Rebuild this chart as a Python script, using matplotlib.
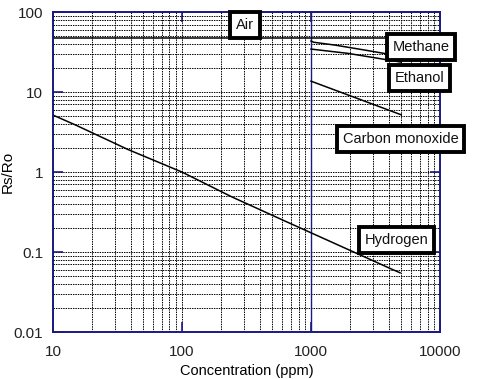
import matplotlib
matplotlib.use("Agg")
import matplotlib.pyplot as plt
from matplotlib.ticker import LogLocator, NullFormatter, FixedLocator

plt.rcParams["font.family"] = ["Liberation Sans", "DejaVu Sans"]

# values (Rs/Ro vs concentration in ppm)
air_x = [10, 10000]
air_y = [48, 48]
methane_x = [1000, 1050, 1535, 2620, 5000]
methane_y = [43.5, 42, 38.7, 33.5, 28]
ethanol_x = [1000, 1935, 5000]
ethanol_y = [34.5, 30.5, 23.7]
co_x = [1000, 5000]
co_y = [13.7, 5.2]
hydrogen_x = [10, 15, 38, 100, 243, 628, 1630, 4090, 4900]
hydrogen_y = [5.16, 3.87, 1.92, 1.0, 0.49, 0.244, 0.122, 0.0625, 0.055]

# label name, x, y (data coords of box centre)
labels = [
    ("Air", 308, 69),
    ("Methane", 7130, 36.5),
    ("Ethanol", 6900, 15.0),
    ("Carbon monoxide", 4950, 2.58),
    ("Hydrogen", 4600, 0.141),
]

navy = "#1a1a80"

fig = plt.figure(figsize=(4.95, 3.79), dpi=100)
ax = fig.add_axes([0.107, 0.124, 0.782, 0.844])

ax.set_xscale("log")
ax.set_yscale("log")
ax.set_xlim(10, 10000)
ax.set_ylim(0.01, 100)

ax.xaxis.set_major_locator(FixedLocator([10, 100, 1000, 10000]))
ax.yaxis.set_major_locator(FixedLocator([0.01, 0.1, 1, 10, 100]))
ax.xaxis.set_minor_locator(LogLocator(base=10, subs=range(2, 10)))
ax.yaxis.set_minor_locator(LogLocator(base=10, subs=range(2, 10)))
ax.xaxis.set_minor_formatter(NullFormatter())
ax.yaxis.set_minor_formatter(NullFormatter())
ax.set_xticklabels(["10", "100", "1000", "10000"])
ax.set_yticklabels(["0.01", "0.1", "1", "10", "100"])

ax.grid(True, which="both", color="black", linestyle=(0, (1.5, 1)), linewidth=0.7)
ax.tick_params(which="major", direction="in", length=7, width=1.2, color=navy,
               top=True, right=True, labelsize=11, labelcolor="#222222", pad=7)
ax.tick_params(which="minor", length=0)
ax.tick_params(axis="x", pad=9)
for s in ax.spines.values():
    s.set_color(navy)
    s.set_linewidth(1.4)

ax.axvline(1000, color=navy, lw=1.0)

for xs, ys in [(air_x, air_y), (methane_x, methane_y), (ethanol_x, ethanol_y),
               (co_x, co_y), (hydrogen_x, hydrogen_y)]:
    ax.plot(xs, ys, color="black", lw=1.1)

for name, lx, ly in labels:
    ax.text(lx, ly, name, ha="center", va="center", fontsize=10.5, color="#111111",
            clip_on=False, zorder=5,
            bbox=dict(boxstyle="square,pad=0.4", fc="white", ec="black", lw=2.8))

ax.set_xlabel("Concentration (ppm)", fontsize=10.5, labelpad=4)
ax.set_ylabel("Rs/Ro", fontsize=11)
ax.yaxis.set_label_coords(-0.098, 0.5)

fig.savefig("out.png", dpi=100)
